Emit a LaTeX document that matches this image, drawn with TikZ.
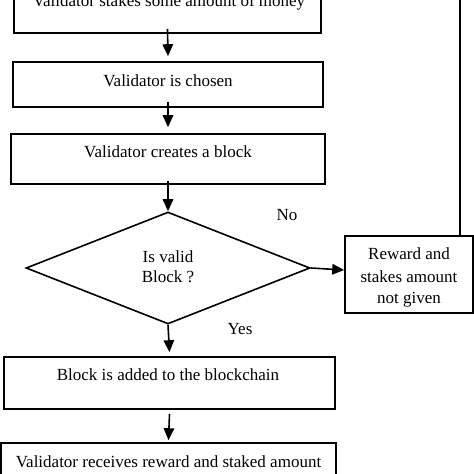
\documentclass[tikz,border=0pt]{standalone}
\usepackage{fontspec}
\setmainfont{Liberation Serif}
\usetikzlibrary{shapes.geometric,arrows.meta}
\tikzset{
  x=1pt,y=-1pt,
  box/.style={draw,line width=1.6pt,inner sep=0pt,rectangle},
  txt/.style={inner sep=0pt,anchor=base,font=\fontsize{17}{20.5}\selectfont},
  arr/.style={line width=1.6pt,-{Triangle[length=12pt,width=10.5pt]}},
  ln/.style={line width=1.6pt}
}
\begin{document}
\begin{tikzpicture}
\useasboundingbox (0,0) rectangle (474,474);
\clip (0,0) rectangle (474,474);
\fill[white] (0,0) rectangle (474,474);
% boxes
\node[box,minimum width=307pt,minimum height=52pt] (b1) at (167.5,7) {};
\node[box,minimum width=310pt,minimum height=45pt] (b2) at (168,84.5) {};
\node[box,minimum width=314pt,minimum height=50pt] (b3) at (168,159) {};
\node[draw,diamond,line width=1.6pt,inner sep=0pt,minimum width=284pt,minimum height=112pt] (d) at (168,268) {};
\node[box,minimum width=128pt,minimum height=77pt] (r) at (409,274.5) {};
\node[box,minimum width=331pt,minimum height=52pt] (b5) at (169.5,383) {};
\node[box,minimum width=335pt,minimum height=52pt] (b6) at (168.5,469) {};
% texts
\node[txt] (t1) at (169,6.5) {Validator stakes some amount of money};
\node[txt] (t2) at (168,86) {Validator is chosen};
\node[txt] (t3) at (168,157.5) {Validator creates a block};
\node[txt] (t4a) at (168,262.5) {Is valid};
\node[txt] (t4b) at (168,282.5) {Block ?};
\node[txt] (t5a) at (409,259.5) {Reward and};
\node[txt] (t5b) at (409,282) {stakes amount};
\node[txt] (t5c) at (409,303.5) {not given};
\node[txt] (t6) at (168,380.5) {Block is added to the blockchain};
\node[txt] (t7) at (168.5,467.5) {Validator receives reward and staked amount};
\node[txt] (no) at (287,220.5) {No};
\node[txt] (yes) at (240,334.5) {Yes};
% connectors
\draw[arr] ([yshift=5pt]b1.south) -- ([yshift=5pt]b2.north);
\draw[arr] ([yshift=6pt]b2.south) -- ([yshift=6pt]b3.north);
\draw[arr] ([yshift=4pt]b3.south) -- (d.north);
\draw[arr] (d.east) -- ([yshift=4.5pt]r.west);
\draw[arr] (d.south) -- ([yshift=4pt]b5.north);
\draw[arr] ([yshift=-4pt]b5.south) -- ([yshift=2pt]b6.north);
\coordinate (up) at (460,-20);
\draw[ln] (r.north -| up) -- (up);
\end{tikzpicture}
\end{document}
